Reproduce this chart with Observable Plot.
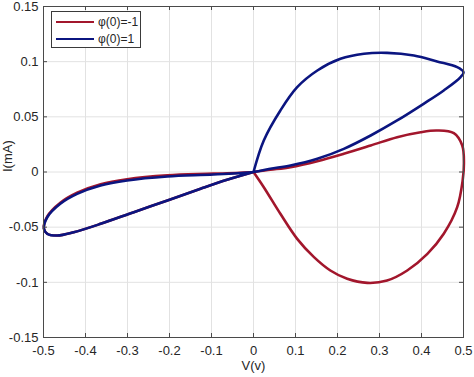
<!DOCTYPE html>
<html><head><meta charset="utf-8">
<script src="https://cdn.jsdelivr.net/npm/d3@7"></script>
<script src="https://cdn.jsdelivr.net/npm/@observablehq/plot@0.6"></script>
<style>
body{margin:0;background:#fff;font-family:"Liberation Sans",Arial,sans-serif;}
#wrap{position:relative;width:474px;height:377px;}
#legend{position:absolute;left:51px;top:11px;width:88px;height:35px;border:1px solid #3a3a3a;background:#fff;font-size:12px;color:#262626;}
.item{position:absolute;left:0;height:16px;width:88px;}
.swatch{position:absolute;left:4px;width:38px;height:0;border-top:2.5px solid;}
.lab{position:absolute;left:46px;white-space:nowrap;line-height:14px;}
</style></head><body><div id="wrap"></div>
<script>
const seriesNames = ["φ(0)=-1", "φ(0)=1"];
const seriesColors = ["#A2162C", "#0B1580"];
const xLabel = "V(v)";
const yLabel = "I(mA)";
const xTicks = [-0.5, -0.4, -0.3, -0.2, -0.1, 0, 0.1, 0.2, 0.3, 0.4, 0.5];
const xTickLabels = ["-0.5", "-0.4", "-0.3", "-0.2", "-0.1", "0", "0.1", "0.2", "0.3", "0.4", "0.5"];
const yTicks = [-0.15, -0.1, -0.05, 0, 0.05, 0.1, 0.15];
const yTickLabels = ["-0.15", "-0.1", "-0.05", "0", "0.05", "0.1", "0.15"];

// φ(0) = -1
const redV = [0, 0.0245, 0.064, 0.104, 0.144, 0.183, 0.223, 0.271, 0.318, 0.366, 0.414, 0.453, 0.485, 0.498, 0.501, 0.497, 0.477, 0.437, 0.398, 0.342, 0.279, 0.215, 0.152, 0.088, 0.040, 0,
  -0.095, -0.205, -0.301, -0.364, -0.420, -0.460, -0.491, -0.499, -0.491, -0.467, -0.428, -0.364, -0.285, -0.205, -0.126, -0.063, 0];
const redI = [0, -0.0138, -0.0379, -0.0606, -0.0772, -0.0893, -0.0968, -0.1005, -0.0984, -0.0893, -0.0742, -0.056, -0.0319, -0.0077, 0.008, 0.0240, 0.0352, 0.0376, 0.0361, 0.0316, 0.024, 0.0165, 0.0098, 0.0044, 0.002, 0,
  -0.0015, -0.0031, -0.0066, -0.0111, -0.0188, -0.0279, -0.0403, -0.0513, -0.0560, -0.0576, -0.0546, -0.0470, -0.0364, -0.0258, -0.0152, -0.0071, 0];

// φ(0) = 1
const blueV = [0, 0.0245, 0.064, 0.104, 0.152, 0.207, 0.263, 0.318, 0.382, 0.437, 0.485, 0.500, 0.493, 0.453, 0.405, 0.342, 0.279, 0.215, 0.152, 0.088, 0.040, 0,
  -0.095, -0.205, -0.301, -0.364, -0.420, -0.460, -0.491, -0.499, -0.491, -0.467, -0.428, -0.364, -0.285, -0.205, -0.126, -0.063, 0];
const blueI = [0, 0.0286, 0.0558, 0.0769, 0.092, 0.1026, 0.1072, 0.108, 0.1056, 0.1002, 0.095, 0.0905, 0.086, 0.0739, 0.0618, 0.0467, 0.0331, 0.021, 0.012, 0.0059, 0.0029, 0,
  -0.0023, -0.0041, -0.0077, -0.0122, -0.0198, -0.0288, -0.0410, -0.0515, -0.0560, -0.0576, -0.0546, -0.0470, -0.0364, -0.0258, -0.0152, -0.0071, 0];

const redData = redV.map((v, i) => ({V: v, I: redI[i]}));
const blueData = blueV.map((v, i) => ({V: v, I: blueI[i]}));

const W = 474, H = 377, mL = 43, mR = 11, mT = 6, mB = 40;
const innerW = W - mL - mR, innerH = H - mT - mB;
const axisColor = "#4a4a4a";
const xFmt = d => xTickLabels[xTicks.findIndex(t => Math.abs(t - d) < 1e-9)];
const yFmt = d => yTickLabels[yTicks.findIndex(t => Math.abs(t - d) < 1e-9)];

const chart = Plot.plot({
  width: W, height: H,
  marginLeft: mL, marginRight: mR, marginTop: mT, marginBottom: mB,
  style: {fontFamily: '"Liberation Sans", Arial, sans-serif', fontSize: "13px", color: "#262626", background: "#fff"},
  x: {domain: [-0.5, 0.5]},
  y: {domain: [-0.15, 0.15]},
  marks: [
    Plot.gridX(xTicks, {stroke: "#e2e2e2", strokeOpacity: 1}),
    Plot.gridY(yTicks, {stroke: "#e2e2e2", strokeOpacity: 1}),
    Plot.line(redData, {x: "V", y: "I", stroke: seriesColors[0], strokeWidth: 2.6, curve: "catmull-rom"}),
    Plot.line(blueData, {x: "V", y: "I", stroke: seriesColors[1], strokeWidth: 2.6, curve: "catmull-rom"}),
    Plot.frame({stroke: axisColor}),
    Plot.ruleX(xTicks, {x: d => d, insetTop: innerH - 4, stroke: axisColor}),
    Plot.ruleX(xTicks, {x: d => d, insetBottom: innerH - 4, stroke: axisColor}),
    Plot.ruleY(yTicks, {y: d => d, insetRight: innerW - 4, stroke: axisColor}),
    Plot.ruleY(yTicks, {y: d => d, insetLeft: innerW - 4, stroke: axisColor}),
    Plot.axisX(xTicks, {tickSize: 0, tickPadding: 8, tickFormat: xFmt, label: null, fontSize: 13}),
    Plot.axisY(yTicks, {tickSize: 0, tickPadding: 5, tickFormat: yFmt, label: null, fontSize: 13}),
    Plot.text([xLabel], {frameAnchor: "bottom", dy: 32, text: d => d, fontSize: 13, fill: "#262626"}),
    Plot.text([yLabel], {frameAnchor: "left", dx: -36, rotate: -90, text: d => d, fontSize: 13, fill: "#262626"})
  ]
});

const wrap = document.getElementById("wrap");
wrap.appendChild(chart);
const legend = document.createElement("div");
legend.id = "legend";
seriesNames.forEach((name, i) => {
  const item = document.createElement("div");
  item.className = "item";
  item.style.top = (i === 0 ? 3 : 19.5) + "px";
  const sw = document.createElement("div");
  sw.className = "swatch";
  sw.style.borderTopColor = seriesColors[i];
  sw.style.top = "6px";
  const lab = document.createElement("div");
  lab.className = "lab";
  lab.style.top = "0px";
  lab.textContent = name;
  item.appendChild(sw);
  item.appendChild(lab);
  legend.appendChild(item);
});
wrap.appendChild(legend);
</script>
</body></html>
